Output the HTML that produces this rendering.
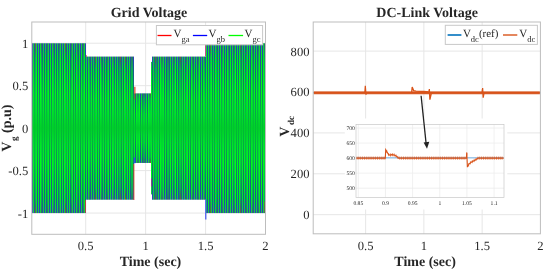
<!DOCTYPE html>
<html><head><meta charset="utf-8"><style>
html,body{margin:0;padding:0;background:#fff;width:550px;height:272px;overflow:hidden}
svg{display:block;text-rendering:geometricPrecision;filter:blur(0.3px)}
text{font-family:"Liberation Serif","Times New Roman",serif;fill:#262626}
</style></head><body>
<svg width="550" height="272" viewBox="0 0 550 272">
<rect x="31.8" y="22.0" width="233.7" height="212.3" fill="#fff"/>
<line x1="85.73" y1="22.0" x2="85.73" y2="234.3" stroke="#e6e6e6" stroke-width="1"/>
<line x1="145.65" y1="22.0" x2="145.65" y2="234.3" stroke="#e6e6e6" stroke-width="1"/>
<line x1="205.58" y1="22.0" x2="205.58" y2="234.3" stroke="#e6e6e6" stroke-width="1"/>
<line x1="31.8" y1="213.07" x2="265.5" y2="213.07" stroke="#e6e6e6" stroke-width="1"/>
<line x1="31.8" y1="170.61" x2="265.5" y2="170.61" stroke="#e6e6e6" stroke-width="1"/>
<line x1="31.8" y1="128.15" x2="265.5" y2="128.15" stroke="#e6e6e6" stroke-width="1"/>
<line x1="31.8" y1="85.69" x2="265.5" y2="85.69" stroke="#e6e6e6" stroke-width="1"/>
<line x1="31.8" y1="43.23" x2="265.5" y2="43.23" stroke="#e6e6e6" stroke-width="1"/>
<defs><linearGradient id="gb" x1="0" y1="0" x2="0" y2="1"><stop offset="0.000" stop-color="#20c448"/><stop offset="0.040" stop-color="#10dc34"/><stop offset="0.085" stop-color="#00f020"/><stop offset="0.200" stop-color="#00fa1a"/><stop offset="0.300" stop-color="#00fa1a"/><stop offset="0.400" stop-color="#00e628"/><stop offset="0.500" stop-color="#00d02a"/><stop offset="0.600" stop-color="#00e628"/><stop offset="0.700" stop-color="#00fa1a"/><stop offset="0.800" stop-color="#00fa1a"/><stop offset="0.915" stop-color="#00f020"/><stop offset="0.960" stop-color="#10dc34"/><stop offset="1.000" stop-color="#20c448"/></linearGradient><linearGradient id="gm" x1="0" y1="0" x2="0" y2="1"><stop offset="0.000" stop-color="#287868"/><stop offset="0.040" stop-color="#1a9060"/><stop offset="0.085" stop-color="#10a858"/><stop offset="0.200" stop-color="#00c840"/><stop offset="0.300" stop-color="#00d834"/><stop offset="0.400" stop-color="#00d830"/><stop offset="0.500" stop-color="#00cc2a"/><stop offset="0.600" stop-color="#00d830"/><stop offset="0.700" stop-color="#00d834"/><stop offset="0.800" stop-color="#00c840"/><stop offset="0.915" stop-color="#10a858"/><stop offset="0.960" stop-color="#1a9060"/><stop offset="1.000" stop-color="#287868"/></linearGradient><linearGradient id="go" x1="0" y1="0" x2="0" y2="1"><stop offset="0.000" stop-color="#607038"/><stop offset="0.040" stop-color="#308050"/><stop offset="0.085" stop-color="#10a858"/><stop offset="0.200" stop-color="#00c840"/><stop offset="0.300" stop-color="#00d834"/><stop offset="0.400" stop-color="#00d830"/><stop offset="0.500" stop-color="#00cc2a"/><stop offset="0.600" stop-color="#00d830"/><stop offset="0.700" stop-color="#00d834"/><stop offset="0.800" stop-color="#00c840"/><stop offset="0.915" stop-color="#10a858"/><stop offset="0.960" stop-color="#308050"/><stop offset="1.000" stop-color="#607038"/></linearGradient><linearGradient id="gt" x1="0" y1="0" x2="0" y2="1"><stop offset="0.000" stop-color="#2c50a0"/><stop offset="0.040" stop-color="#1c5c90"/><stop offset="0.085" stop-color="#166a80"/><stop offset="0.200" stop-color="#108a68"/><stop offset="0.300" stop-color="#0ca455"/><stop offset="0.400" stop-color="#04b840"/><stop offset="0.500" stop-color="#00c42e"/><stop offset="0.600" stop-color="#04b840"/><stop offset="0.700" stop-color="#0ca455"/><stop offset="0.800" stop-color="#108a68"/><stop offset="0.915" stop-color="#166a80"/><stop offset="0.960" stop-color="#1c5c90"/><stop offset="1.000" stop-color="#2c50a0"/></linearGradient><linearGradient id="gp" x1="0" y1="0" x2="0" y2="1"><stop offset="0.000" stop-color="#603898"/><stop offset="0.040" stop-color="#3a5090"/><stop offset="0.085" stop-color="#166a80"/><stop offset="0.200" stop-color="#108a68"/><stop offset="0.300" stop-color="#0ca455"/><stop offset="0.400" stop-color="#04b840"/><stop offset="0.500" stop-color="#00c42e"/><stop offset="0.600" stop-color="#04b840"/><stop offset="0.700" stop-color="#0ca455"/><stop offset="0.800" stop-color="#108a68"/><stop offset="0.915" stop-color="#166a80"/><stop offset="0.960" stop-color="#3a5090"/><stop offset="1.000" stop-color="#603898"/></linearGradient><linearGradient id="gd" x1="0" y1="0" x2="0" y2="1"><stop offset="0.000" stop-color="#3040b8"/><stop offset="0.040" stop-color="#2048b0"/><stop offset="0.085" stop-color="#1a5890"/><stop offset="0.200" stop-color="#166a7a"/><stop offset="0.300" stop-color="#108462"/><stop offset="0.400" stop-color="#08a44a"/><stop offset="0.500" stop-color="#00bc32"/><stop offset="0.600" stop-color="#08a44a"/><stop offset="0.700" stop-color="#108462"/><stop offset="0.800" stop-color="#166a7a"/><stop offset="0.915" stop-color="#1a5890"/><stop offset="0.960" stop-color="#2048b0"/><stop offset="1.000" stop-color="#3040b8"/></linearGradient></defs>
<rect x="32" y="43.23" width="1" height="169.84" fill="url(#gd)"/>
<rect x="33" y="43.23" width="1" height="169.84" fill="url(#gb)"/>
<rect x="34" y="43.23" width="1" height="169.84" fill="url(#gt)"/>
<rect x="35" y="43.23" width="1" height="169.84" fill="url(#go)"/>
<rect x="36" y="43.23" width="1" height="169.84" fill="url(#gb)"/>
<rect x="37" y="43.23" width="1" height="169.84" fill="url(#gd)"/>
<rect x="38" y="43.23" width="1" height="169.84" fill="url(#gb)"/>
<rect x="39" y="43.23" width="1" height="169.84" fill="url(#gd)"/>
<rect x="40" y="43.23" width="1" height="169.84" fill="url(#gb)"/>
<rect x="41" y="43.23" width="1" height="169.84" fill="url(#gm)"/>
<rect x="42" y="43.23" width="1" height="169.84" fill="url(#gt)"/>
<rect x="43" y="43.23" width="1" height="169.84" fill="url(#gb)"/>
<rect x="44" y="43.23" width="1" height="169.84" fill="url(#gd)"/>
<rect x="45" y="43.23" width="1" height="169.84" fill="url(#gb)"/>
<rect x="46" y="43.23" width="1" height="169.84" fill="url(#gt)"/>
<rect x="47" y="43.23" width="1" height="169.84" fill="url(#gm)"/>
<rect x="48" y="43.23" width="1" height="169.84" fill="url(#gb)"/>
<rect x="49" y="43.23" width="1" height="169.84" fill="url(#gd)"/>
<rect x="50" y="43.23" width="1" height="169.84" fill="url(#gb)"/>
<rect x="51" y="43.23" width="1" height="169.84" fill="url(#gd)"/>
<rect x="52" y="43.23" width="1" height="169.84" fill="url(#gb)"/>
<rect x="53" y="43.23" width="1" height="169.84" fill="url(#gm)"/>
<rect x="54" y="43.23" width="1" height="169.84" fill="url(#gt)"/>
<rect x="55" y="43.23" width="1" height="169.84" fill="url(#gb)"/>
<rect x="56" y="43.23" width="1" height="169.84" fill="url(#gd)"/>
<rect x="57" y="43.23" width="1" height="169.84" fill="url(#gb)"/>
<rect x="58" y="43.23" width="1" height="169.84" fill="url(#gt)"/>
<rect x="59" y="43.23" width="1" height="169.84" fill="url(#gm)"/>
<rect x="60" y="43.23" width="1" height="169.84" fill="url(#gb)"/>
<rect x="61" y="43.23" width="1" height="169.84" fill="url(#gd)"/>
<rect x="62" y="43.23" width="1" height="169.84" fill="url(#gb)"/>
<rect x="63" y="43.23" width="1" height="169.84" fill="url(#gd)"/>
<rect x="64" y="43.23" width="1" height="169.84" fill="url(#gb)"/>
<rect x="65" y="43.23" width="1" height="169.84" fill="url(#go)"/>
<rect x="66" y="43.23" width="1" height="169.84" fill="url(#gt)"/>
<rect x="67" y="43.23" width="1" height="169.84" fill="url(#gb)"/>
<rect x="68" y="43.23" width="1" height="169.84" fill="url(#gd)"/>
<rect x="69" y="43.23" width="1" height="169.84" fill="url(#gb)"/>
<rect x="70" y="43.23" width="1" height="169.84" fill="url(#gt)"/>
<rect x="71" y="43.23" width="1" height="169.84" fill="url(#gm)"/>
<rect x="72" y="43.23" width="1" height="169.84" fill="url(#gb)"/>
<rect x="73" y="43.23" width="1" height="169.84" fill="url(#gd)"/>
<rect x="74" y="43.23" width="1" height="169.84" fill="url(#gb)"/>
<rect x="75" y="43.23" width="1" height="169.84" fill="url(#gd)"/>
<rect x="76" y="43.23" width="1" height="169.84" fill="url(#gb)"/>
<rect x="77" y="43.23" width="1" height="169.84" fill="url(#gm)"/>
<rect x="78" y="43.23" width="1" height="169.84" fill="url(#gt)"/>
<rect x="79" y="43.23" width="1" height="169.84" fill="url(#gb)"/>
<rect x="80" y="43.23" width="1" height="169.84" fill="url(#gd)"/>
<rect x="81" y="43.23" width="1" height="169.84" fill="url(#gb)"/>
<rect x="82" y="43.23" width="1" height="169.84" fill="url(#gt)"/>
<rect x="83" y="43.23" width="1" height="169.84" fill="url(#gm)"/>
<rect x="84" y="43.23" width="1" height="169.84" fill="url(#gb)"/>
<rect x="85" y="43.23" width="1" height="169.84" fill="url(#gd)"/>
<rect x="86" y="56.56" width="1" height="143.18" fill="url(#gb)"/>
<rect x="87" y="56.56" width="1" height="143.18" fill="url(#gd)"/>
<rect x="88" y="56.56" width="1" height="143.18" fill="url(#gb)"/>
<rect x="89" y="56.56" width="1" height="143.18" fill="url(#gm)"/>
<rect x="90" y="56.56" width="1" height="143.18" fill="url(#gt)"/>
<rect x="91" y="56.56" width="1" height="143.18" fill="url(#gb)"/>
<rect x="92" y="56.56" width="1" height="143.18" fill="url(#gd)"/>
<rect x="93" y="56.56" width="1" height="143.18" fill="url(#gb)"/>
<rect x="94" y="56.56" width="1" height="143.18" fill="url(#gt)"/>
<rect x="95" y="56.56" width="1" height="143.18" fill="url(#go)"/>
<rect x="96" y="56.56" width="1" height="143.18" fill="url(#gb)"/>
<rect x="97" y="56.56" width="1" height="143.18" fill="url(#gd)"/>
<rect x="98" y="56.56" width="1" height="143.18" fill="url(#gb)"/>
<rect x="99" y="56.56" width="1" height="143.18" fill="url(#gd)"/>
<rect x="100" y="56.56" width="1" height="143.18" fill="url(#gb)"/>
<rect x="101" y="56.56" width="1" height="143.18" fill="url(#gm)"/>
<rect x="102" y="56.56" width="1" height="143.18" fill="url(#gt)"/>
<rect x="103" y="56.56" width="1" height="143.18" fill="url(#gb)"/>
<rect x="104" y="56.56" width="1" height="143.18" fill="url(#gd)"/>
<rect x="105" y="56.56" width="1" height="143.18" fill="url(#gb)"/>
<rect x="106" y="56.56" width="1" height="143.18" fill="url(#gt)"/>
<rect x="107" y="56.56" width="1" height="143.18" fill="url(#gm)"/>
<rect x="108" y="56.56" width="1" height="143.18" fill="url(#gb)"/>
<rect x="109" y="56.56" width="1" height="143.18" fill="url(#gd)"/>
<rect x="110" y="56.56" width="1" height="143.18" fill="url(#gb)"/>
<rect x="111" y="56.56" width="1" height="143.18" fill="url(#gd)"/>
<rect x="112" y="56.56" width="1" height="143.18" fill="url(#gb)"/>
<rect x="113" y="56.56" width="1" height="143.18" fill="url(#gm)"/>
<rect x="114" y="56.56" width="1" height="143.18" fill="url(#gt)"/>
<rect x="115" y="56.56" width="1" height="143.18" fill="url(#gb)"/>
<rect x="116" y="56.56" width="1" height="143.18" fill="url(#gd)"/>
<rect x="117" y="56.56" width="1" height="143.18" fill="url(#gb)"/>
<rect x="118" y="56.56" width="1" height="143.18" fill="url(#gt)"/>
<rect x="119" y="56.56" width="1" height="143.18" fill="url(#gm)"/>
<rect x="120" y="56.56" width="1" height="143.18" fill="url(#go)"/>
<rect x="121" y="56.56" width="1" height="143.18" fill="url(#gd)"/>
<rect x="122" y="56.56" width="1" height="143.18" fill="url(#gb)"/>
<rect x="123" y="56.56" width="1" height="143.18" fill="url(#gd)"/>
<rect x="124" y="56.56" width="1" height="143.18" fill="url(#gb)"/>
<rect x="125" y="56.56" width="1" height="143.18" fill="url(#go)"/>
<rect x="126" y="56.56" width="1" height="143.18" fill="url(#gt)"/>
<rect x="127" y="56.56" width="1" height="143.18" fill="url(#gb)"/>
<rect x="128" y="56.56" width="1" height="143.18" fill="url(#gd)"/>
<rect x="129" y="56.56" width="1" height="143.18" fill="url(#gb)"/>
<rect x="130" y="56.56" width="1" height="143.18" fill="url(#gt)"/>
<rect x="131" y="56.56" width="1" height="143.18" fill="url(#gm)"/>
<rect x="132" y="56.56" width="1" height="143.18" fill="url(#gm)"/>
<rect x="133" y="56.56" width="1" height="143.18" fill="url(#gd)"/>
<rect x="134" y="93.33" width="1" height="69.63" fill="url(#gb)"/>
<rect x="135" y="93.33" width="1" height="69.63" fill="url(#gd)"/>
<rect x="136" y="93.33" width="1" height="69.63" fill="url(#gb)"/>
<rect x="137" y="93.33" width="1" height="69.63" fill="url(#gm)"/>
<rect x="138" y="93.33" width="1" height="69.63" fill="url(#gm)"/>
<rect x="139" y="93.33" width="1" height="69.63" fill="url(#gb)"/>
<rect x="140" y="93.33" width="1" height="69.63" fill="url(#gd)"/>
<rect x="141" y="93.33" width="1" height="69.63" fill="url(#gb)"/>
<rect x="142" y="93.33" width="1" height="69.63" fill="url(#gt)"/>
<rect x="143" y="93.33" width="1" height="69.63" fill="url(#gm)"/>
<rect x="144" y="93.33" width="1" height="69.63" fill="url(#gm)"/>
<rect x="145" y="93.33" width="1" height="69.63" fill="url(#gt)"/>
<rect x="146" y="93.33" width="1" height="69.63" fill="url(#gb)"/>
<rect x="147" y="93.33" width="1" height="69.63" fill="url(#gd)"/>
<rect x="148" y="93.33" width="1" height="69.63" fill="url(#gb)"/>
<rect x="149" y="93.33" width="1" height="69.63" fill="url(#gm)"/>
<rect x="150" y="93.33" width="1" height="69.63" fill="url(#go)"/>
<rect x="151" y="61.91" width="1" height="132.48" fill="url(#gb)"/>
<rect x="152" y="56.56" width="1" height="143.18" fill="url(#gd)"/>
<rect x="153" y="56.56" width="1" height="143.18" fill="url(#gb)"/>
<rect x="154" y="56.56" width="1" height="143.18" fill="url(#gt)"/>
<rect x="155" y="56.56" width="1" height="143.18" fill="url(#go)"/>
<rect x="156" y="56.56" width="1" height="143.18" fill="url(#gm)"/>
<rect x="157" y="56.56" width="1" height="143.18" fill="url(#gt)"/>
<rect x="158" y="56.56" width="1" height="143.18" fill="url(#gb)"/>
<rect x="159" y="56.56" width="1" height="143.18" fill="url(#gd)"/>
<rect x="160" y="56.56" width="1" height="143.18" fill="url(#gb)"/>
<rect x="161" y="56.56" width="1" height="143.18" fill="url(#gm)"/>
<rect x="162" y="56.56" width="1" height="143.18" fill="url(#gm)"/>
<rect x="163" y="56.56" width="1" height="143.18" fill="url(#gb)"/>
<rect x="164" y="56.56" width="1" height="143.18" fill="url(#gd)"/>
<rect x="165" y="56.56" width="1" height="143.18" fill="url(#gb)"/>
<rect x="166" y="56.56" width="1" height="143.18" fill="url(#gd)"/>
<rect x="167" y="56.56" width="1" height="143.18" fill="url(#gm)"/>
<rect x="168" y="56.56" width="1" height="143.18" fill="url(#gm)"/>
<rect x="169" y="56.56" width="1" height="143.18" fill="url(#gt)"/>
<rect x="170" y="56.56" width="1" height="143.18" fill="url(#gb)"/>
<rect x="171" y="56.56" width="1" height="143.18" fill="url(#gd)"/>
<rect x="172" y="56.56" width="1" height="143.18" fill="url(#gb)"/>
<rect x="173" y="56.56" width="1" height="143.18" fill="url(#gt)"/>
<rect x="174" y="56.56" width="1" height="143.18" fill="url(#gm)"/>
<rect x="175" y="56.56" width="1" height="143.18" fill="url(#gb)"/>
<rect x="176" y="56.56" width="1" height="143.18" fill="url(#gd)"/>
<rect x="177" y="56.56" width="1" height="143.18" fill="url(#gb)"/>
<rect x="178" y="56.56" width="1" height="143.18" fill="url(#gd)"/>
<rect x="179" y="56.56" width="1" height="143.18" fill="url(#gm)"/>
<rect x="180" y="56.56" width="1" height="143.18" fill="url(#go)"/>
<rect x="181" y="56.56" width="1" height="143.18" fill="url(#gt)"/>
<rect x="182" y="56.56" width="1" height="143.18" fill="url(#gb)"/>
<rect x="183" y="56.56" width="1" height="143.18" fill="url(#gd)"/>
<rect x="184" y="56.56" width="1" height="143.18" fill="url(#gb)"/>
<rect x="185" y="56.56" width="1" height="143.18" fill="url(#gt)"/>
<rect x="186" y="56.56" width="1" height="143.18" fill="url(#gm)"/>
<rect x="187" y="56.56" width="1" height="143.18" fill="url(#gb)"/>
<rect x="188" y="56.56" width="1" height="143.18" fill="url(#gd)"/>
<rect x="189" y="56.56" width="1" height="143.18" fill="url(#gb)"/>
<rect x="190" y="56.56" width="1" height="143.18" fill="url(#gd)"/>
<rect x="191" y="56.56" width="1" height="143.18" fill="url(#gb)"/>
<rect x="192" y="56.56" width="1" height="143.18" fill="url(#gm)"/>
<rect x="193" y="56.56" width="1" height="143.18" fill="url(#gt)"/>
<rect x="194" y="56.56" width="1" height="143.18" fill="url(#gb)"/>
<rect x="195" y="56.56" width="1" height="143.18" fill="url(#gd)"/>
<rect x="196" y="56.56" width="1" height="143.18" fill="url(#gb)"/>
<rect x="197" y="56.56" width="1" height="143.18" fill="url(#gt)"/>
<rect x="198" y="56.56" width="1" height="143.18" fill="url(#gm)"/>
<rect x="199" y="56.56" width="1" height="143.18" fill="url(#gb)"/>
<rect x="200" y="56.56" width="1" height="143.18" fill="url(#gd)"/>
<rect x="201" y="56.56" width="1" height="143.18" fill="url(#gb)"/>
<rect x="202" y="56.56" width="1" height="143.18" fill="url(#gd)"/>
<rect x="203" y="56.56" width="1" height="143.18" fill="url(#gb)"/>
<rect x="204" y="56.56" width="1" height="143.18" fill="url(#gm)"/>
<rect x="205" y="56.56" width="1" height="143.18" fill="url(#gt)"/>
<rect x="206" y="43.23" width="1" height="169.84" fill="url(#gb)"/>
<rect x="207" y="43.23" width="1" height="169.84" fill="url(#gd)"/>
<rect x="208" y="43.23" width="1" height="169.84" fill="url(#gb)"/>
<rect x="209" y="43.23" width="1" height="169.84" fill="url(#gt)"/>
<rect x="210" y="43.23" width="1" height="169.84" fill="url(#go)"/>
<rect x="211" y="43.23" width="1" height="169.84" fill="url(#gb)"/>
<rect x="212" y="43.23" width="1" height="169.84" fill="url(#gd)"/>
<rect x="213" y="43.23" width="1" height="169.84" fill="url(#gb)"/>
<rect x="214" y="43.23" width="1" height="169.84" fill="url(#gd)"/>
<rect x="215" y="43.23" width="1" height="169.84" fill="url(#gb)"/>
<rect x="216" y="43.23" width="1" height="169.84" fill="url(#gm)"/>
<rect x="217" y="43.23" width="1" height="169.84" fill="url(#gt)"/>
<rect x="218" y="43.23" width="1" height="169.84" fill="url(#gb)"/>
<rect x="219" y="43.23" width="1" height="169.84" fill="url(#gd)"/>
<rect x="220" y="43.23" width="1" height="169.84" fill="url(#gb)"/>
<rect x="221" y="43.23" width="1" height="169.84" fill="url(#gt)"/>
<rect x="222" y="43.23" width="1" height="169.84" fill="url(#gm)"/>
<rect x="223" y="43.23" width="1" height="169.84" fill="url(#gb)"/>
<rect x="224" y="43.23" width="1" height="169.84" fill="url(#gd)"/>
<rect x="225" y="43.23" width="1" height="169.84" fill="url(#gb)"/>
<rect x="226" y="43.23" width="1" height="169.84" fill="url(#gd)"/>
<rect x="227" y="43.23" width="1" height="169.84" fill="url(#gb)"/>
<rect x="228" y="43.23" width="1" height="169.84" fill="url(#gm)"/>
<rect x="229" y="43.23" width="1" height="169.84" fill="url(#gt)"/>
<rect x="230" y="43.23" width="1" height="169.84" fill="url(#gb)"/>
<rect x="231" y="43.23" width="1" height="169.84" fill="url(#gd)"/>
<rect x="232" y="43.23" width="1" height="169.84" fill="url(#gb)"/>
<rect x="233" y="43.23" width="1" height="169.84" fill="url(#gt)"/>
<rect x="234" y="43.23" width="1" height="169.84" fill="url(#gm)"/>
<rect x="235" y="43.23" width="1" height="169.84" fill="url(#gb)"/>
<rect x="236" y="43.23" width="1" height="169.84" fill="url(#gd)"/>
<rect x="237" y="43.23" width="1" height="169.84" fill="url(#gb)"/>
<rect x="238" y="43.23" width="1" height="169.84" fill="url(#gd)"/>
<rect x="239" y="43.23" width="1" height="169.84" fill="url(#gb)"/>
<rect x="240" y="43.23" width="1" height="169.84" fill="url(#go)"/>
<rect x="241" y="43.23" width="1" height="169.84" fill="url(#gt)"/>
<rect x="242" y="43.23" width="1" height="169.84" fill="url(#gb)"/>
<rect x="243" y="43.23" width="1" height="169.84" fill="url(#gd)"/>
<rect x="244" y="43.23" width="1" height="169.84" fill="url(#gb)"/>
<rect x="245" y="43.23" width="1" height="169.84" fill="url(#gt)"/>
<rect x="246" y="43.23" width="1" height="169.84" fill="url(#gm)"/>
<rect x="247" y="43.23" width="1" height="169.84" fill="url(#gb)"/>
<rect x="248" y="43.23" width="1" height="169.84" fill="url(#gd)"/>
<rect x="249" y="43.23" width="1" height="169.84" fill="url(#gb)"/>
<rect x="250" y="43.23" width="1" height="169.84" fill="url(#gd)"/>
<rect x="251" y="43.23" width="1" height="169.84" fill="url(#gb)"/>
<rect x="252" y="43.23" width="1" height="169.84" fill="url(#gm)"/>
<rect x="253" y="43.23" width="1" height="169.84" fill="url(#gt)"/>
<rect x="254" y="43.23" width="1" height="169.84" fill="url(#gb)"/>
<rect x="255" y="43.23" width="1" height="169.84" fill="url(#gd)"/>
<rect x="256" y="43.23" width="1" height="169.84" fill="url(#gb)"/>
<rect x="257" y="43.23" width="1" height="169.84" fill="url(#gt)"/>
<rect x="258" y="43.23" width="1" height="169.84" fill="url(#gm)"/>
<rect x="259" y="43.23" width="1" height="169.84" fill="url(#gb)"/>
<rect x="260" y="43.23" width="1" height="169.84" fill="url(#gd)"/>
<rect x="261" y="43.23" width="1" height="169.84" fill="url(#gb)"/>
<rect x="262" y="43.23" width="1" height="169.84" fill="url(#gd)"/>
<rect x="263" y="43.23" width="1" height="169.84" fill="url(#gb)"/>
<rect x="264" y="43.23" width="1" height="169.84" fill="url(#gm)"/>
<rect x="265" y="43.23" width="1" height="169.84" fill="url(#gt)"/>
<rect x="85" y="200.2" width="1" height="12.6" fill="#c84a28" opacity="0.8"/>
<rect x="86" y="55.2" width="1" height="1.6" fill="#c84a28" opacity="0.7"/>
<rect x="134.2" y="86.8" width="1.3" height="7" fill="#e03a20" opacity="0.9"/>
<rect x="134.2" y="93.8" width="1.3" height="5.6" fill="#b04020" opacity="0.6"/>
<rect x="133.8" y="157.5" width="1.4" height="6" fill="#3050e0" opacity="0.85"/>
<rect x="133.3" y="164" width="1.2" height="36" fill="#e05020" opacity="0.75"/>
<rect x="151" y="178.5" width="1" height="8" fill="#a03090" opacity="0.8"/>
<rect x="205" y="43.3" width="1" height="13" fill="#b02870" opacity="0.8"/>
<rect x="205.2" y="199.5" width="1.2" height="20" fill="#3040f0" opacity="0.9"/>
<rect x="264.6" y="201.6" width="1" height="11" fill="#e04a20" opacity="0.8"/>
<rect x="31.8" y="22.0" width="233.7" height="212.3" fill="none" stroke="#bdbdbd" stroke-width="1"/>
<rect x="313.2" y="22.0" width="227.2" height="211.8" fill="#fff"/>
<line x1="365.63" y1="22.0" x2="365.63" y2="233.8" stroke="#e6e6e6" stroke-width="1"/>
<line x1="423.89" y1="22.0" x2="423.89" y2="233.8" stroke="#e6e6e6" stroke-width="1"/>
<line x1="482.14" y1="22.0" x2="482.14" y2="233.8" stroke="#e6e6e6" stroke-width="1"/>
<line x1="313.2" y1="214.70" x2="540.4" y2="214.70" stroke="#e6e6e6" stroke-width="1"/>
<line x1="313.2" y1="173.80" x2="540.4" y2="173.80" stroke="#e6e6e6" stroke-width="1"/>
<line x1="313.2" y1="132.90" x2="540.4" y2="132.90" stroke="#e6e6e6" stroke-width="1"/>
<line x1="313.2" y1="92.00" x2="540.4" y2="92.00" stroke="#e6e6e6" stroke-width="1"/>
<line x1="313.2" y1="51.10" x2="540.4" y2="51.10" stroke="#e6e6e6" stroke-width="1"/>
<line x1="313.2" y1="92.8" x2="540.4" y2="92.8" stroke="#0072bd" stroke-width="1"/>
<rect x="313.7" y="91.7" width="226.2" height="2.2" fill="#d95319"/>
<rect x="313.7" y="91.0" width="226.2" height="3.6" fill="#d95319" opacity="0.4"/>
<polyline points="364.8,92.8 365.3,85.7 366.0,94.6 366.6,92.8" fill="none" stroke="#d95319" stroke-width="1.2"/>
<polyline points="411.6,92.8 412.2,87.1 413.6,90.6 416,91.2 420,91.3 424,91.5 428.5,91.8" fill="none" stroke="#d95319" stroke-width="1.3"/>
<polyline points="428.8,92.8 429.3,89.0 429.9,99.6 431.2,93.8 433,92.8" fill="none" stroke="#d95319" stroke-width="1.3"/>
<polyline points="482.0,92.8 482.6,88.0 483.2,97.6 484.0,92.8" fill="none" stroke="#d95319" stroke-width="1.3"/>
<rect x="313.2" y="22.0" width="227.2" height="211.8" fill="none" stroke="#bdbdbd" stroke-width="1"/>
<rect x="344.8" y="118.5" width="162.5" height="91" fill="#fff"/>
<line x1="358.30" y1="124.5" x2="358.30" y2="197.4" stroke="#ececec" stroke-width="0.8"/>
<line x1="385.45" y1="124.5" x2="385.45" y2="197.4" stroke="#ececec" stroke-width="0.8"/>
<line x1="412.60" y1="124.5" x2="412.60" y2="197.4" stroke="#ececec" stroke-width="0.8"/>
<line x1="439.75" y1="124.5" x2="439.75" y2="197.4" stroke="#ececec" stroke-width="0.8"/>
<line x1="466.90" y1="124.5" x2="466.90" y2="197.4" stroke="#ececec" stroke-width="0.8"/>
<line x1="494.05" y1="124.5" x2="494.05" y2="197.4" stroke="#ececec" stroke-width="0.8"/>
<line x1="356.0" y1="188.20" x2="504.0" y2="188.20" stroke="#ececec" stroke-width="0.8"/>
<line x1="356.0" y1="173.15" x2="504.0" y2="173.15" stroke="#ececec" stroke-width="0.8"/>
<line x1="356.0" y1="158.10" x2="504.0" y2="158.10" stroke="#ececec" stroke-width="0.8"/>
<line x1="356.0" y1="143.05" x2="504.0" y2="143.05" stroke="#ececec" stroke-width="0.8"/>
<line x1="356.0" y1="128.00" x2="504.0" y2="128.00" stroke="#ececec" stroke-width="0.8"/>
<line x1="356.0" y1="157.80" x2="504.0" y2="157.80" stroke="#9fc8ea" stroke-width="1.4"/>
<polyline points="356.00,158.10 385.30,158.10 385.70,149.67 386.60,151.18 388.50,154.49 390.00,155.09 392.00,154.64 394.40,155.09 396.50,156.29 398.70,158.10 466.30,158.10 466.80,152.98 467.40,167.13 468.30,165.32 469.40,163.52 471.60,162.01 475.30,159.91 478.20,158.10 504.00,158.10" fill="none" stroke="#d95319" stroke-width="1.1"/>
<path d="M357.00 156.50V159.70M358.86 156.50V159.70M360.72 156.50V159.70M362.58 156.50V159.70M364.44 156.50V159.70M366.30 156.50V159.70M368.16 156.50V159.70M370.02 156.50V159.70M371.88 156.50V159.70M373.74 156.50V159.70M375.60 156.50V159.70M377.46 156.50V159.70M379.32 156.50V159.70M381.18 156.50V159.70M383.04 156.50V159.70M384.90 156.50V159.70M386.76 149.86V153.06M388.62 152.94V156.14M390.48 153.38V156.58M392.34 153.10V156.30M394.20 153.45V156.65M396.06 154.44V157.64M397.92 155.86V159.06M399.78 156.50V159.70M401.64 156.50V159.70M403.50 156.50V159.70M405.36 156.50V159.70M407.22 156.50V159.70M409.08 156.50V159.70M410.94 156.50V159.70M412.80 156.50V159.70M414.66 156.50V159.70M416.52 156.50V159.70M418.38 156.50V159.70M420.24 156.50V159.70M422.10 156.50V159.70M423.96 156.50V159.70M425.82 156.50V159.70M427.68 156.50V159.70M429.54 156.50V159.70M431.40 156.50V159.70M433.26 156.50V159.70M435.12 156.50V159.70M436.98 156.50V159.70M438.84 156.50V159.70M440.70 156.50V159.70M442.56 156.50V159.70M444.42 156.50V159.70M446.28 156.50V159.70M448.14 156.50V159.70M450.00 156.50V159.70M451.86 156.50V159.70M453.72 156.50V159.70M455.58 156.50V159.70M457.44 156.50V159.70M459.30 156.50V159.70M461.16 156.50V159.70M463.02 156.50V159.70M464.88 156.50V159.70M466.74 152.00V155.20M468.60 163.23V166.43M470.46 161.19V164.39M472.32 160.00V163.20M474.18 158.94V162.14M476.04 157.85V161.05M477.90 156.69V159.89M479.76 156.50V159.70M481.62 156.50V159.70M483.48 156.50V159.70M485.34 156.50V159.70M487.20 156.50V159.70M489.06 156.50V159.70M490.92 156.50V159.70M492.78 156.50V159.70M494.64 156.50V159.70M496.50 156.50V159.70M498.36 156.50V159.70M500.22 156.50V159.70M502.08 156.50V159.70" stroke="#d95319" stroke-width="0.85" opacity="0.8"/>
<rect x="356.0" y="124.5" width="148.0" height="72.9" fill="none" stroke="#c8c8c8" stroke-width="0.7"/>
<line x1="421.1" y1="95.8" x2="426.1" y2="143.5" stroke="#222" stroke-width="1.3"/>
<polygon points="423.6,142.4 429.3,141.8 427.0,148.8" fill="#222"/>
<text x="149.0" y="16.7" font-size="14" text-anchor="middle" font-weight="bold" fill="#000">Grid Voltage</text>
<text x="427.1" y="16.7" font-size="14" text-anchor="middle" font-weight="bold" fill="#000">DC-Link Voltage</text>
<text x="85.7" y="249.6" font-size="12.6" text-anchor="middle" font-weight="normal" >0.5</text>
<text x="365.6" y="249.6" font-size="12.6" text-anchor="middle" font-weight="normal" >0.5</text>
<text x="145.7" y="249.6" font-size="12.6" text-anchor="middle" font-weight="normal" >1</text>
<text x="423.9" y="249.6" font-size="12.6" text-anchor="middle" font-weight="normal" >1</text>
<text x="205.6" y="249.6" font-size="12.6" text-anchor="middle" font-weight="normal" >1.5</text>
<text x="482.1" y="249.6" font-size="12.6" text-anchor="middle" font-weight="normal" >1.5</text>
<text x="265.5" y="249.6" font-size="12.6" text-anchor="middle" font-weight="normal" >2</text>
<text x="540.4" y="249.6" font-size="12.6" text-anchor="middle" font-weight="normal" >2</text>
<text x="150.5" y="265.6" font-size="14" text-anchor="middle" font-weight="bold" fill="#000">Time (sec)</text>
<text x="425.1" y="265.6" font-size="14" text-anchor="middle" font-weight="bold" fill="#000">Time (sec)</text>
<text x="28.2" y="47.6" font-size="12.6" text-anchor="end" font-weight="normal" >1</text>
<text x="28.2" y="90.1" font-size="12.6" text-anchor="end" font-weight="normal" >0.5</text>
<text x="28.2" y="132.6" font-size="12.6" text-anchor="end" font-weight="normal" >0</text>
<text x="28.2" y="175.0" font-size="12.6" text-anchor="end" font-weight="normal" >-0.5</text>
<text x="28.2" y="217.5" font-size="12.6" text-anchor="end" font-weight="normal" >-1</text>
<text x="309.5" y="219.1" font-size="12.6" text-anchor="end" font-weight="normal" >0</text>
<text x="309.5" y="178.2" font-size="12.6" text-anchor="end" font-weight="normal" >200</text>
<text x="309.5" y="137.3" font-size="12.6" text-anchor="end" font-weight="normal" >400</text>
<text x="309.5" y="96.4" font-size="12.6" text-anchor="end" font-weight="normal" >600</text>
<text x="309.5" y="55.5" font-size="12.6" text-anchor="end" font-weight="normal" >800</text>
<text transform="translate(11.4,128.2) rotate(-90)" font-size="14" font-weight="bold" text-anchor="middle" fill="#000">V<tspan font-size="9" dx="0.6" dy="5.4">g</tspan><tspan dy="-5.4"> (p.u)</tspan></text>
<text transform="translate(288.8,126.4) rotate(-90)" font-size="14" font-weight="bold" text-anchor="middle" fill="#000">V<tspan font-size="9" dx="1.6" dy="5.6">dc</tspan></text>
<text x="354.8" y="190.1" font-size="5.6" text-anchor="end" font-weight="normal" fill="#555">500</text>
<text x="354.8" y="175.1" font-size="5.6" text-anchor="end" font-weight="normal" fill="#555">550</text>
<text x="354.8" y="160.0" font-size="5.6" text-anchor="end" font-weight="normal" fill="#555">600</text>
<text x="354.8" y="144.9" font-size="5.6" text-anchor="end" font-weight="normal" fill="#555">650</text>
<text x="354.8" y="129.9" font-size="5.6" text-anchor="end" font-weight="normal" fill="#555">700</text>
<text x="358.3" y="204.5" font-size="5.6" text-anchor="middle" font-weight="normal" fill="#555">0.85</text>
<text x="385.5" y="204.5" font-size="5.6" text-anchor="middle" font-weight="normal" fill="#555">0.9</text>
<text x="412.6" y="204.5" font-size="5.6" text-anchor="middle" font-weight="normal" fill="#555">0.95</text>
<text x="439.8" y="204.5" font-size="5.6" text-anchor="middle" font-weight="normal" fill="#555">1</text>
<text x="466.9" y="204.5" font-size="5.6" text-anchor="middle" font-weight="normal" fill="#555">1.05</text>
<text x="494.1" y="204.5" font-size="5.6" text-anchor="middle" font-weight="normal" fill="#555">1.1</text>
<rect x="156.4" y="25.5" width="106.20000000000002" height="19.299999999999997" fill="#fff" stroke="#c8c8c8" stroke-width="1"/>
<line x1="157.5" y1="35.5" x2="171.5" y2="35.5" stroke="#ff0000" stroke-width="1.3"/>
<text x="173.6" y="36.9" font-size="11" fill="#000">V<tspan font-size="8.5" dy="5.3">ga</tspan></text>
<line x1="192.9" y1="35.5" x2="207.2" y2="35.5" stroke="#0000ff" stroke-width="1.3"/>
<text x="208.6" y="36.9" font-size="11" fill="#000">V<tspan font-size="8.5" dy="5.3">gb</tspan></text>
<line x1="228.5" y1="35.5" x2="243.1" y2="35.5" stroke="#00ff00" stroke-width="1.3"/>
<text x="244.5" y="36.9" font-size="11" fill="#000">V<tspan font-size="8.5" dy="5.3">gc</tspan></text>
<rect x="445.3" y="25.3" width="92.09999999999997" height="19.099999999999998" fill="#fff" stroke="#c8c8c8" stroke-width="1"/>
<line x1="447.6" y1="35.0" x2="461.4" y2="35.0" stroke="#0072bd" stroke-width="1.6"/>
<text x="462.9" y="36.8" font-size="11" fill="#000">V<tspan font-size="8.5" dy="5.3">dc</tspan><tspan dy="-5.3">(ref)</tspan></text>
<line x1="503" y1="35.0" x2="517.3" y2="35.0" stroke="#d95319" stroke-width="1.4"/>
<text x="519.2" y="36.8" font-size="11" fill="#000">V<tspan font-size="8.5" dy="5.3">dc</tspan></text>
</svg>
</body></html>
